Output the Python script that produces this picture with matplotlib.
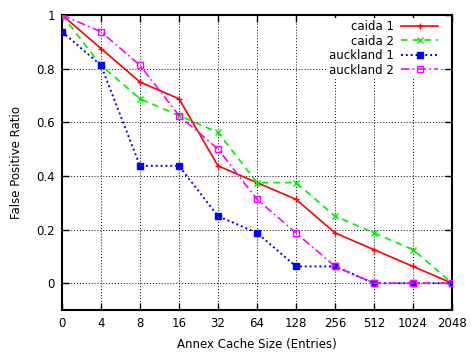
import matplotlib
matplotlib.use("Agg")
import matplotlib.pyplot as plt
from matplotlib.ticker import FuncFormatter

plt.rcParams['font.family'] = ['DejaVu Sans']

x_labels = ["0", "4", "8", "16", "32", "64", "128", "256", "512", "1024", "2048"]
caida1 = [1.0, 0.875, 0.75, 0.6875, 0.4375, 0.375, 0.3125, 0.1875, 0.125, 0.0625, 0.0]
caida2 = [1.0, 0.8125, 0.6875, 0.625, 0.5625, 0.375, 0.375, 0.25, 0.1875, 0.125, 0.0]
auckland1 = [0.9375, 0.8125, 0.4375, 0.4375, 0.25, 0.1875, 0.0625, 0.0625, 0.0, 0.0, 0.0]
auckland2 = [1.0, 0.9375, 0.8125, 0.625, 0.5, 0.3125, 0.1875, 0.0625, 0.0, 0.0, 0.0]
y_ticks = [0, 0.2, 0.4, 0.6, 0.8, 1.0]

fig = plt.figure(figsize=(4.74, 3.55), dpi=100)
ax = fig.add_axes([62/474, 1-310/355, (452-62)/474, (310-15)/355])

xs = list(range(len(x_labels)))
ax.plot(xs, caida1, color='#ff0000', linestyle='-', marker='+', markersize=5,
        markeredgewidth=1.0, linewidth=1.2, label='caida 1', zorder=3)
ax.plot(xs, caida2, color='#00ee00', linestyle=(0, (4, 3)), marker='x', markersize=5,
        markeredgewidth=1.0, linewidth=1.2, label='caida 2', zorder=3)
ax.plot(xs, auckland1, color='#0000ff', linestyle=(0, (1, 1.5)), marker='s', markersize=4,
        markeredgewidth=1.0, linewidth=1.4, label='auckland 1', zorder=3)
ax.plot(xs, auckland2, color='#ff00ff', linestyle=(0, (5, 2, 1, 2)), marker='s', markersize=5,
        markerfacecolor='none', markeredgewidth=1.0, linewidth=1.2, label='auckland 2', zorder=3)

ax.set_xlim(0, len(x_labels) - 1)
ax.set_ylim(-0.1, 1.0)
ax.set_xticks(xs)
ax.set_xticklabels(x_labels)
ax.set_yticks(y_ticks)
ax.yaxis.set_major_formatter(FuncFormatter(lambda v, p: f"{v:g}"))
ax.tick_params(direction='in', top=True, right=True, length=5, width=1.0,
               labelsize=8.5, pad=5, colors='black')
ax.grid(True, color='black', linestyle=(0, (1, 2)), linewidth=0.7)
for s in ax.spines.values():
    s.set_linewidth(1.5)

ax.set_xlabel("Annex Cache Size (Entries)", fontsize=8.5, labelpad=6)
ax.set_ylabel("False Positive Ratio", fontsize=8.5, labelpad=10)

leg = ax.legend(loc='upper right', bbox_to_anchor=(0.970, 0.991), frameon=True,
                markerfirst=False, fontsize=8.5,
                handlelength=3.1, borderaxespad=0.0, labelspacing=0.13,
                handletextpad=0.6, borderpad=0.2)
leg.get_frame().set_edgecolor('none')
leg.get_frame().set_facecolor('white')
leg.get_frame().set_alpha(1.0)
for t in leg.get_texts():
    t.set_ha('right')
leg._legend_box.align = 'right'

fig.savefig("out.png", dpi=100)
